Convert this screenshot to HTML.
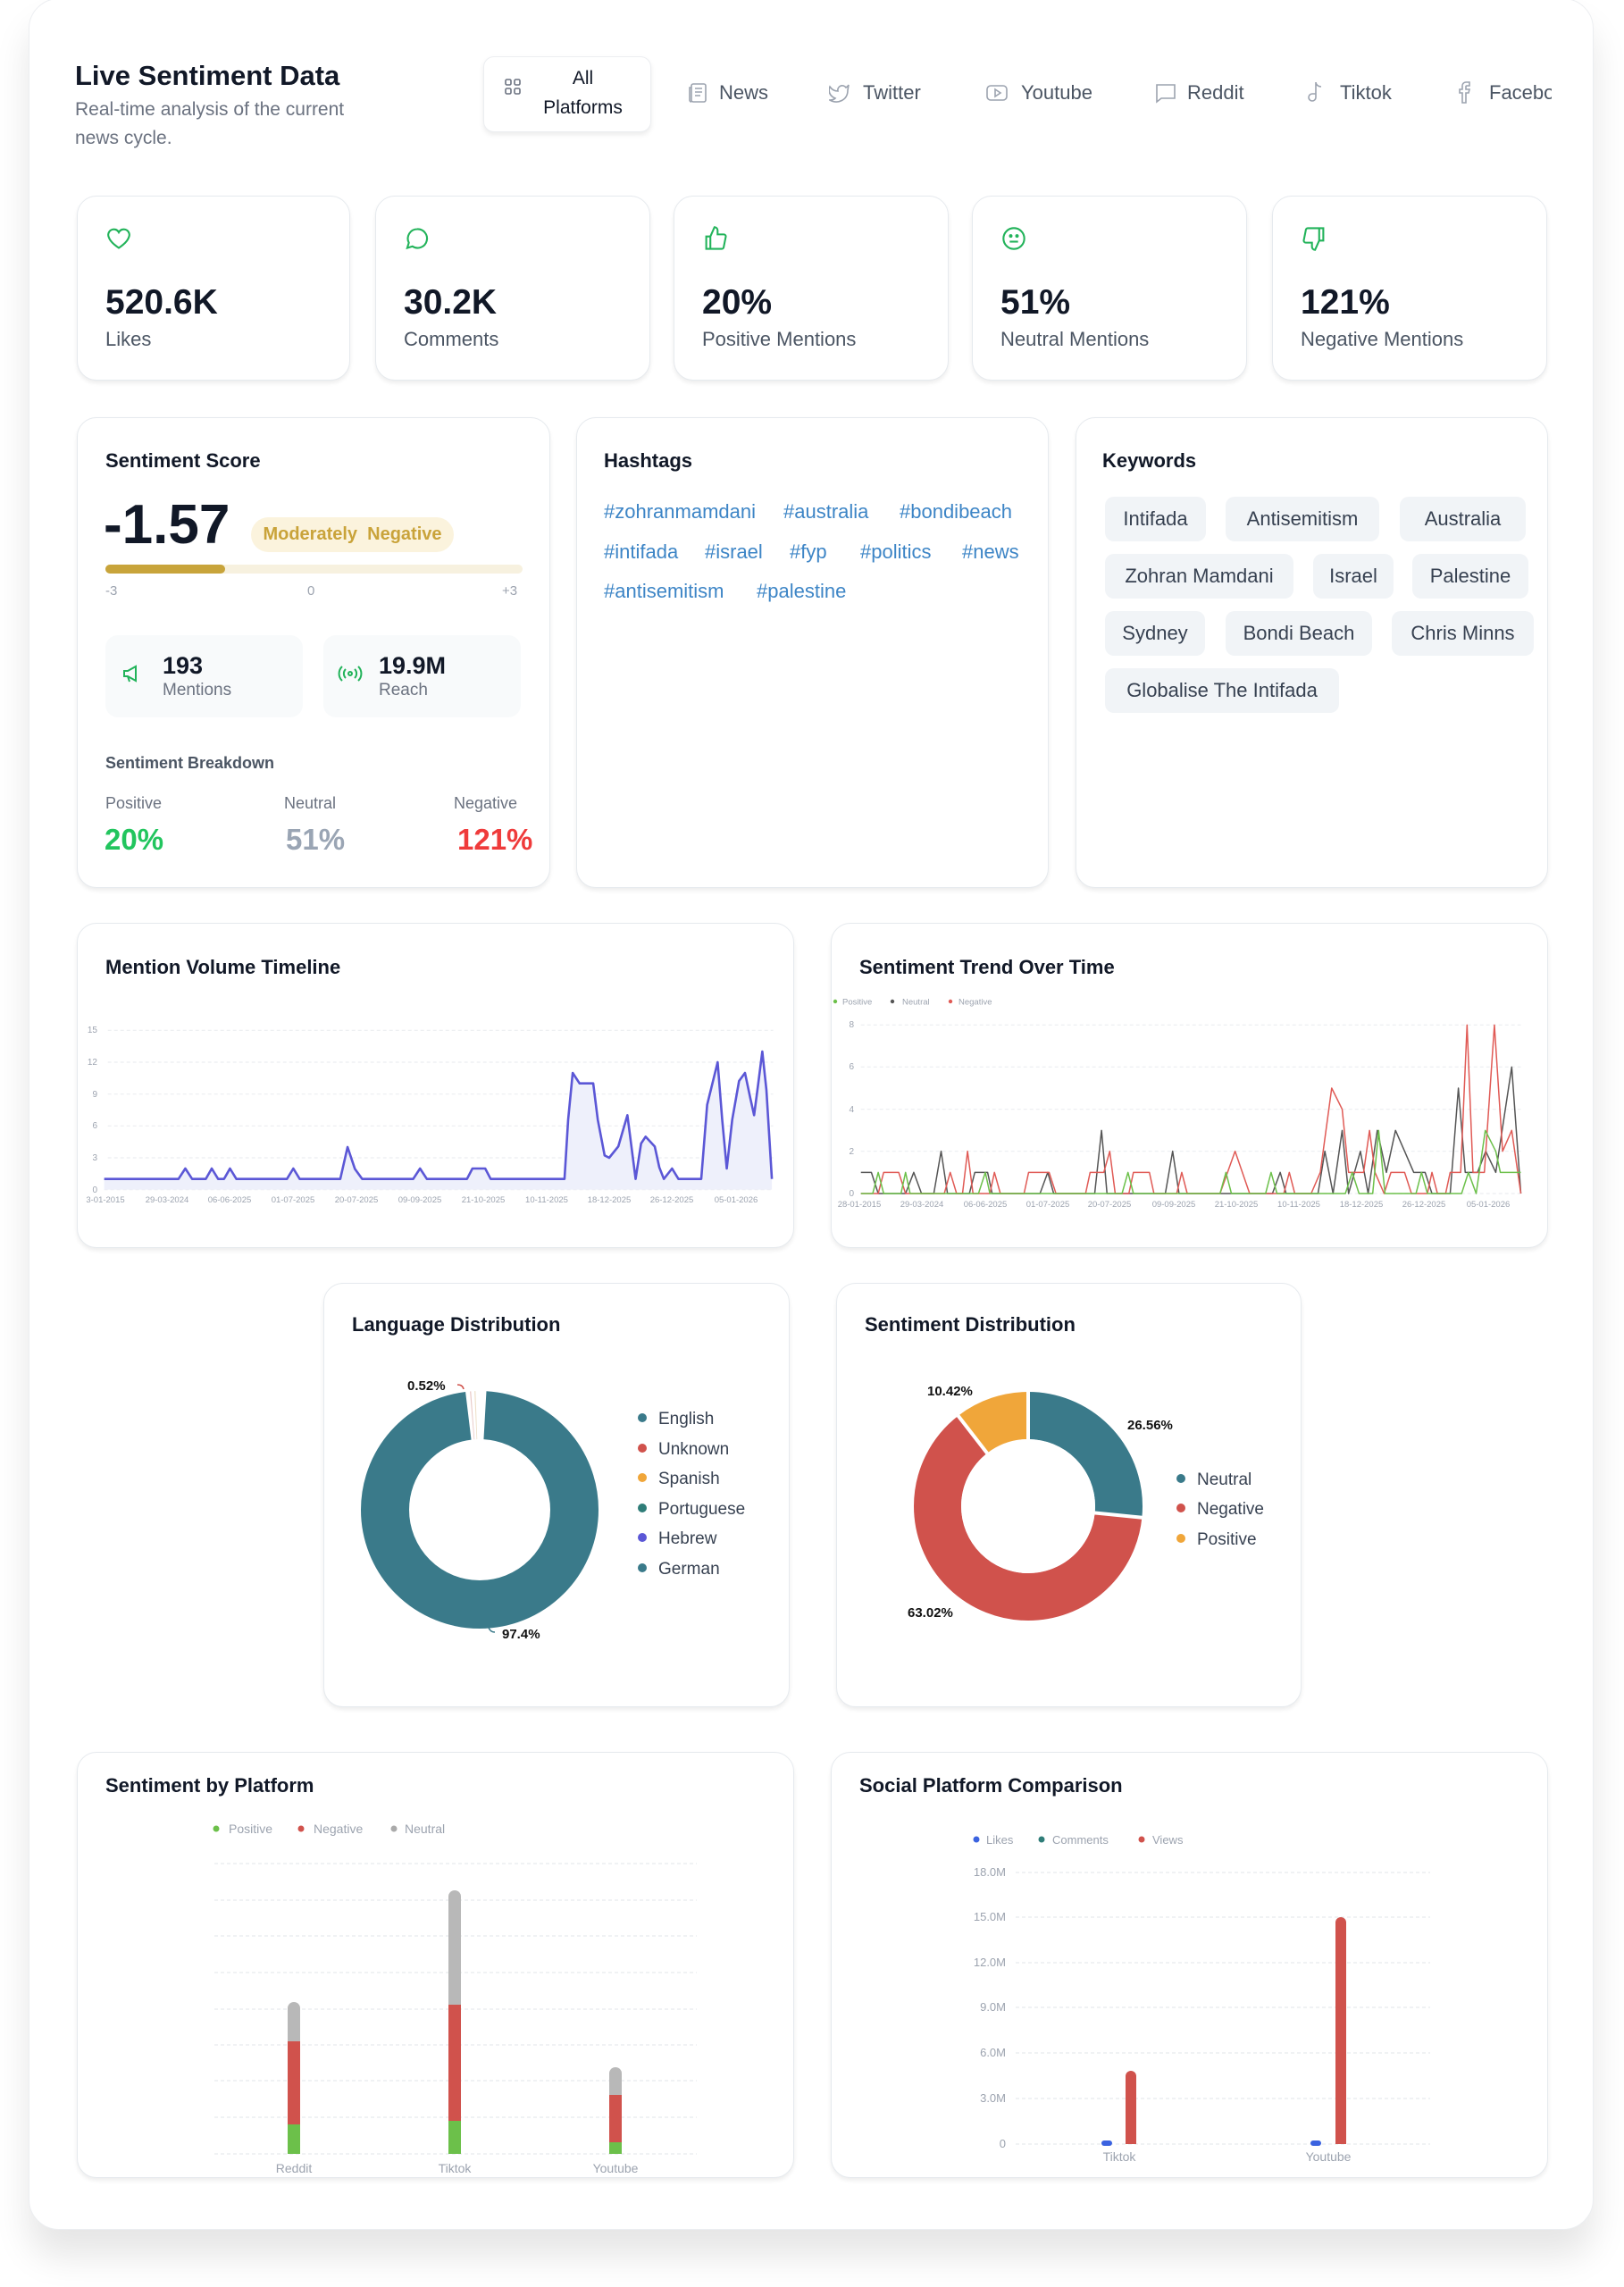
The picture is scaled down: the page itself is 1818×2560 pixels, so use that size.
<!DOCTYPE html>
<html><head><meta charset="utf-8">
<style>
*{margin:0;padding:0;box-sizing:border-box}
body{width:1818px;height:2560px;background:#fff;font-family:"Liberation Sans",sans-serif;color:#111827;position:relative;overflow:hidden}
.a{position:absolute}
.outer{left:32px;top:-2px;width:1752px;height:2498px;border:1.5px solid #eceef1;border-radius:34px;background:#fff;box-shadow:0 30px 40px rgba(0,0,0,0.10)}
.card{position:absolute;background:#fff;border:1.5px solid #e6eaee;border-radius:22px;box-shadow:0 3px 5px rgba(0,0,0,0.07)}
.t{position:absolute;white-space:nowrap;line-height:1}
.h{font-weight:bold;font-size:22px;color:#111827}
.val{font-weight:bold;font-size:39px;color:#111827}
.lbl{font-size:22px;color:#4b5563}
.tab{font-size:22px;color:#4b5563}
.tag{font-size:22px;color:#3d85c6}
.chip{position:absolute;height:50px;background:#f1f4f7;border-radius:10px;font-size:22px;color:#374151;display:flex;align-items:center;justify-content:center}
</style></head><body>
<div class="a outer"></div>

<!-- header -->
<div class="t" style="left:84px;top:69px;font-size:31px;font-weight:bold">Live Sentiment Data</div>
<div class="t" style="left:84px;top:112px;font-size:21px;color:#6b7280">Real-time analysis of the current</div>
<div class="t" style="left:84px;top:144px;font-size:21px;color:#6b7280">news cycle.</div>

<div class="a" style="left:541px;top:63px;width:188px;height:85px;border:1.5px solid #eceef1;border-radius:12px;box-shadow:0 3px 6px rgba(0,0,0,0.08);background:#fff"></div>
<svg class="a" style="left:565px;top:88px" width="18" height="18" viewBox="0 0 18 18" fill="none" stroke="#6b7280" stroke-width="1.6"><rect x="1" y="1" width="6" height="6" rx="1.5"/><rect x="11" y="1" width="6" height="6" rx="1.5"/><rect x="1" y="11" width="6" height="6" rx="1.5"/><rect x="11" y="11" width="6" height="6" rx="1.5"/></svg>
<div class="t" style="left:600px;top:77px;width:105px;text-align:center;font-size:21px">All</div>
<div class="t" style="left:600px;top:110px;width:105px;text-align:center;font-size:21px">Platforms</div>

<svg class="a" style="left:770px;top:92px" width="22" height="24" viewBox="0 0 22 24" fill="none" stroke="#9ca3af" stroke-width="1.6"><rect x="4" y="2" width="16" height="20" rx="2"/><path d="M4 6H2v14a2 2 0 002 2M8 7h8M8 11h8M8 15h6"/></svg>
<div class="t tab" style="left:805px;top:93px">News</div>
<svg class="a" style="left:928px;top:93px" width="24" height="22" viewBox="0 0 24 22" fill="none" stroke="#9ca3af" stroke-width="1.6"><path d="M22 2s-1 2-3 3a5 5 0 00-9 4C6 9 3 7 1 4c0 0-4 9 6 13-2 2-4 2-6 2 9 5 20 0 20-11z"/></svg>
<div class="t tab" style="left:966px;top:93px">Twitter</div>
<svg class="a" style="left:1104px;top:94px" width="24" height="20" viewBox="0 0 24 20" fill="none" stroke="#9ca3af" stroke-width="1.6"><rect x="1" y="2" width="22" height="16" rx="4"/><path d="M10 6v8l6-4z"/></svg>
<div class="t tab" style="left:1143px;top:93px">Youtube</div>
<svg class="a" style="left:1293px;top:92px" width="24" height="24" viewBox="0 0 24 24" fill="none" stroke="#9ca3af" stroke-width="1.6"><path d="M2 3h20v15H7l-5 4z"/></svg>
<div class="t tab" style="left:1329px;top:93px">Reddit</div>
<svg class="a" style="left:1463px;top:90px" width="20" height="26" viewBox="0 0 20 26" fill="none" stroke="#9ca3af" stroke-width="1.6"><path d="M10 2v17a4 4 0 11-4-4h4M10 2c0 3 3 5 6 5"/></svg>
<div class="t tab" style="left:1500px;top:93px">Tiktok</div>
<svg class="a" style="left:1632px;top:90px" width="16" height="26" viewBox="0 0 16 26" fill="none" stroke="#9ca3af" stroke-width="1.6"><path d="M11 2H9a4 4 0 00-4 4v4H2v4h3v11h4V14h3l1-4H9V7a1 1 0 011-1h3V2z"/></svg>
<div class="a" style="left:1667px;top:90px;width:70px;height:30px;overflow:hidden"><div class="t tab" style="left:0;top:3px">Facebook</div></div>

<!-- stat cards -->
<div class="card" style="left:86px;top:219px;width:306px;height:207px"></div>
<div class="card" style="left:420px;top:219px;width:308px;height:207px"></div>
<div class="card" style="left:754px;top:219px;width:308px;height:207px"></div>
<div class="card" style="left:1088px;top:219px;width:308px;height:207px"></div>
<div class="card" style="left:1424px;top:219px;width:308px;height:207px"></div>

<svg class="a" style="left:119px;top:253px" width="28" height="28" viewBox="0 0 24 24" fill="none" stroke="#22b35a" stroke-width="1.8"><path d="M12 21s-8-5-9.5-10A5 5 0 0112 6a5 5 0 019.5 5C20 16 12 21 12 21z"/></svg>
<svg class="a" style="left:453px;top:253px" width="28" height="28" viewBox="0 0 24 24" fill="none" stroke="#22b35a" stroke-width="1.8"><path d="M12 3a9 9 0 00-8 13l-1.5 5 5-1.5A9 9 0 1012 3z"/></svg>
<svg class="a" style="left:787px;top:252px" width="28" height="30" viewBox="0 0 24 26" fill="none" stroke="#22b35a" stroke-width="1.8"><path d="M7 11v12H3V11zM7 11l4-9a3 3 0 013 3v4h6a2 2 0 012 2l-2 10a2 2 0 01-2 2H7"/></svg>
<svg class="a" style="left:1121px;top:253px" width="28" height="28" viewBox="0 0 24 24" fill="none" stroke="#22b35a" stroke-width="1.8"><circle cx="12" cy="12" r="10"/><path d="M8 15h8"/><circle cx="9" cy="9.5" r=".8" fill="#22b35a"/><circle cx="15" cy="9.5" r=".8" fill="#22b35a"/></svg>
<svg class="a" style="left:1457px;top:252px" width="28" height="30" viewBox="0 0 24 26" fill="none" stroke="#22b35a" stroke-width="1.8"><path d="M17 15V3h4v12zM17 15l-4 9a3 3 0 01-3-3v-4H4a2 2 0 01-2-2l2-10a2 2 0 012-2h11"/></svg>

<div class="t val" style="left:118px;top:319px">520.6K</div><div class="t lbl" style="left:118px;top:369px">Likes</div>
<div class="t val" style="left:452px;top:319px">30.2K</div><div class="t lbl" style="left:452px;top:369px">Comments</div>
<div class="t val" style="left:786px;top:319px">20%</div><div class="t lbl" style="left:786px;top:369px">Positive Mentions</div>
<div class="t val" style="left:1120px;top:319px">51%</div><div class="t lbl" style="left:1120px;top:369px">Neutral Mentions</div>
<div class="t val" style="left:1456px;top:319px">121%</div><div class="t lbl" style="left:1456px;top:369px">Negative Mentions</div>

<!-- row 2 -->
<div class="card" style="left:86px;top:467px;width:530px;height:527px"></div>
<div class="card" style="left:645px;top:467px;width:529px;height:527px"></div>
<div class="card" style="left:1204px;top:467px;width:529px;height:527px"></div>

<div class="t h" style="left:118px;top:505px">Sentiment Score</div>
<div class="t" style="left:116px;top:557px;font-size:62px;font-weight:bold">-1.57</div>
<div class="a" style="left:281px;top:579px;width:227px;height:39px;border-radius:20px;background:#fbf3dd"></div>
<div class="t" style="left:281px;top:588px;width:227px;text-align:center;font-size:20px;font-weight:bold;color:#c9a33a">Moderately&nbsp; Negative</div>
<div class="a" style="left:118px;top:632px;width:467px;height:10px;border-radius:5px;background:#f7f1df"></div>
<div class="a" style="left:118px;top:632px;width:134px;height:10px;border-radius:5px;background:#c8a43b"></div>
<div class="t" style="left:118px;top:654px;font-size:15px;color:#9ca3af">-3</div>
<div class="t" style="left:344px;top:654px;font-size:15px;color:#9ca3af">0</div>
<div class="t" style="left:562px;top:654px;font-size:15px;color:#9ca3af">+3</div>

<div class="a" style="left:118px;top:711px;width:221px;height:92px;border-radius:14px;background:#f8fafb"></div>
<div class="a" style="left:362px;top:711px;width:221px;height:92px;border-radius:14px;background:#f8fafb"></div>
<svg class="a" style="left:136px;top:742px" width="24" height="24" viewBox="0 0 24 24" fill="none" stroke="#22b35a" stroke-width="2"><path d="M3 9v6h4l9 5V4L7 9zM7 15l2 6"/></svg>
<svg class="a" style="left:378px;top:742px" width="28" height="24" viewBox="0 0 28 24" fill="none" stroke="#22b35a" stroke-width="2"><circle cx="14" cy="12" r="2"/><path d="M9 7a7 7 0 000 10M19 7a7 7 0 010 10M5 4a11 11 0 000 16M23 4a11 11 0 010 16"/></svg>
<div class="t" style="left:182px;top:732px;font-size:27px;font-weight:bold">193</div>
<div class="t" style="left:182px;top:763px;font-size:19px;color:#6b7280">Mentions</div>
<div class="t" style="left:424px;top:732px;font-size:27px;font-weight:bold">19.9M</div>
<div class="t" style="left:424px;top:763px;font-size:19px;color:#6b7280">Reach</div>

<div class="t" style="left:118px;top:845px;font-size:18px;font-weight:bold;color:#4b5563">Sentiment Breakdown</div>
<div class="t" style="left:118px;top:890px;font-size:18px;color:#6b7280">Positive</div>
<div class="t" style="left:318px;top:890px;font-size:18px;color:#6b7280">Neutral</div>
<div class="t" style="left:508px;top:890px;font-size:18px;color:#6b7280">Negative</div>
<div class="t" style="left:117px;top:923px;font-size:33px;font-weight:bold;color:#22c55e">20%</div>
<div class="t" style="left:320px;top:923px;font-size:33px;font-weight:bold;color:#9aa5b4">51%</div>
<div class="t" style="left:512px;top:923px;font-size:33px;font-weight:bold;color:#ef3b3b">121%</div>

<div class="t h" style="left:676px;top:505px">Hashtags</div>
<div class="t tag" style="left:676px;top:562px">#zohranmamdani</div>
<div class="t tag" style="left:877px;top:562px">#australia</div>
<div class="t tag" style="left:1007px;top:562px">#bondibeach</div>
<div class="t tag" style="left:676px;top:607px">#intifada</div>
<div class="t tag" style="left:789px;top:607px">#israel</div>
<div class="t tag" style="left:884px;top:607px">#fyp</div>
<div class="t tag" style="left:963px;top:607px">#politics</div>
<div class="t tag" style="left:1077px;top:607px">#news</div>
<div class="t tag" style="left:676px;top:651px">#antisemitism</div>
<div class="t tag" style="left:847px;top:651px">#palestine</div>

<div class="t h" style="left:1234px;top:505px">Keywords</div>
<div class="chip" style="left:1237px;top:556px;width:113px">Intifada</div>
<div class="chip" style="left:1372px;top:556px;width:172px">Antisemitism</div>
<div class="chip" style="left:1567px;top:556px;width:141px">Australia</div>
<div class="chip" style="left:1237px;top:620px;width:211px">Zohran Mamdani</div>
<div class="chip" style="left:1470px;top:620px;width:90px">Israel</div>
<div class="chip" style="left:1581px;top:620px;width:130px">Palestine</div>
<div class="chip" style="left:1237px;top:684px;width:112px">Sydney</div>
<div class="chip" style="left:1372px;top:684px;width:164px">Bondi Beach</div>
<div class="chip" style="left:1558px;top:684px;width:159px">Chris Minns</div>
<div class="chip" style="left:1237px;top:748px;width:262px">Globalise The Intifada</div>

<!-- row 3 -->
<div class="card" style="left:86px;top:1033px;width:803px;height:364px"></div>
<div class="card" style="left:930px;top:1033px;width:803px;height:364px"></div>
<div class="t h" style="left:118px;top:1072px">Mention Volume Timeline</div>
<div class="t h" style="left:962px;top:1072px">Sentiment Trend Over Time</div>

<svg class="a" style="left:85px;top:1120px" width="800" height="240" viewBox="0 0 1568 720" preserveAspectRatio="none">
<g stroke="#eceef1" stroke-width="1.2" stroke-dasharray="4 3">
<line x1="70" y1="100" x2="1530" y2="100" vector-effect="non-scaling-stroke"/><line x1="70" y1="207" x2="1530" y2="207" vector-effect="non-scaling-stroke"/><line x1="70" y1="314" x2="1530" y2="314" vector-effect="non-scaling-stroke"/><line x1="70" y1="421" x2="1530" y2="421" vector-effect="non-scaling-stroke"/><line x1="70" y1="528" x2="1530" y2="528" vector-effect="non-scaling-stroke"/><line x1="62" y1="635" x2="1530" y2="635" vector-effect="non-scaling-stroke"/></g>
<polygon fill="#eef0fb" points="62,635 62,599 225,599 240,564 255,599 285,599 298,564 312,599 325,599 338,564 352,599 463,599 477,564 491,599 580,599 596,492 612,565 628,599 740,599 755,564 770,599 858,599 870,564 898,564 910,599 1072,599 1080,400 1090,243 1105,278 1135,278 1145,400 1160,520 1170,528 1190,490 1210,385 1218,480 1228,599 1240,480 1250,457 1270,490 1280,560 1290,599 1308,564 1322,599 1372,599 1385,350 1408,207 1418,400 1428,564 1440,400 1455,270 1468,243 1480,330 1488,385 1497,280 1506,171 1515,300 1527,599 1527,635"/>
<polyline fill="none" stroke="#5b57d6" stroke-width="2.6" vector-effect="non-scaling-stroke" stroke-linejoin="round" points="62,599 225,599 240,564 255,599 285,599 298,564 312,599 325,599 338,564 352,599 463,599 477,564 491,599 580,599 596,492 612,565 628,599 740,599 755,564 770,599 858,599 870,564 898,564 910,599 1072,599 1080,400 1090,243 1105,278 1135,278 1145,400 1160,520 1170,528 1190,490 1210,385 1218,480 1228,599 1240,480 1250,457 1270,490 1280,560 1290,599 1308,564 1322,599 1372,599 1385,350 1408,207 1418,400 1428,564 1440,400 1455,270 1468,243 1480,330 1488,385 1497,280 1506,171 1515,300 1527,599"/>
</svg>
<svg class="a" style="left:0;top:1100px" width="900" height="260">
<g font-size="10" fill="#9ca3af" font-family="Liberation Sans,sans-serif" text-anchor="end">
<text x="109" y="56">15</text><text x="109" y="92">12</text><text x="109" y="128">9</text><text x="109" y="163">6</text><text x="109" y="199">3</text><text x="109" y="235">0</text></g>
<g font-size="9.5" fill="#9ca3af" font-family="Liberation Sans,sans-serif" text-anchor="middle">
<text x="118" y="246">3-01-2015</text><text x="187" y="246">29-03-2024</text><text x="257" y="246">06-06-2025</text><text x="328" y="246">01-07-2025</text><text x="399" y="246">20-07-2025</text><text x="470" y="246">09-09-2025</text><text x="541" y="246">21-10-2025</text><text x="612" y="246">10-11-2025</text><text x="682" y="246">18-12-2025</text><text x="752" y="246">26-12-2025</text><text x="824" y="246">05-01-2026</text></g>
</svg>

<svg class="a" style="left:927px;top:1100px" width="800" height="260" viewBox="0 0 1568 780" preserveAspectRatio="none">
<g stroke="#eceef1" stroke-width="1.2" stroke-dasharray="4 3">
<line x1="72" y1="142" x2="1520" y2="142" vector-effect="non-scaling-stroke"/><line x1="72" y1="283" x2="1520" y2="283" vector-effect="non-scaling-stroke"/><line x1="72" y1="425" x2="1520" y2="425" vector-effect="non-scaling-stroke"/><line x1="72" y1="566" x2="1520" y2="566" vector-effect="non-scaling-stroke"/><line x1="72" y1="708" x2="1520" y2="708" vector-effect="non-scaling-stroke"/></g>
<polyline fill="none" stroke="#555" stroke-width="1.5" vector-effect="non-scaling-stroke" stroke-linejoin="round" points="72,637 95,637 110,708 170,708 188,637 205,708 232,708 248,566 262,708 310,708 322,637 350,637 360,708 465,708 482,637 495,708 585,708 600,496 612,708 740,708 756,566 770,708 975,708 992,637 1005,708 1075,708 1090,566 1108,708 1128,496 1142,708 1155,637 1168,566 1185,708 1205,496 1225,637 1245,496 1265,566 1285,637 1310,637 1325,708 1365,708 1383,354 1398,637 1425,637 1443,566 1465,637 1500,283 1520,708"/>
<polyline fill="none" stroke="#e05a55" stroke-width="1.5" vector-effect="non-scaling-stroke" stroke-linejoin="round" points="72,708 110,708 122,637 155,637 170,708 255,708 268,637 282,708 295,708 306,566 318,708 355,708 365,637 378,708 430,708 440,637 485,637 500,708 565,708 575,637 605,637 618,566 630,708 660,708 670,637 705,637 715,708 765,708 776,637 788,708 860,708 893,566 925,708 1000,708 1012,637 1024,708 1060,708 1080,637 1105,354 1128,425 1142,637 1175,637 1188,496 1200,637 1220,708 1235,637 1265,637 1280,708 1315,708 1325,637 1337,708 1355,708 1365,637 1388,637 1402,142 1415,637 1440,637 1462,142 1480,566 1500,496 1520,708"/>
<polyline fill="none" stroke="#6cc04a" stroke-width="1.5" vector-effect="non-scaling-stroke" stroke-linejoin="round" points="72,708 98,708 110,637 122,708 160,708 170,637 180,708 330,708 345,637 355,708 645,708 658,637 670,708 860,708 873,637 885,708 960,708 972,637 985,708 1135,708 1150,637 1165,708 1195,708 1208,496 1222,708 1290,708 1302,637 1315,708 1390,708 1405,637 1422,708 1442,496 1465,566 1475,637 1520,637"/>
</svg>
<svg class="a" style="left:900px;top:1100px" width="900" height="260">
<g font-size="9.5" fill="#9ca3af" font-family="Liberation Sans,sans-serif">
<circle cx="35" cy="21" r="2.2" fill="#6cc04a"/><text x="43" y="24.5">Positive</text>
<circle cx="99" cy="21" r="2.2" fill="#555"/><text x="110" y="24.5">Neutral</text>
<circle cx="164" cy="21" r="2.2" fill="#e05a55"/><text x="173" y="24.5">Negative</text></g>
<g font-size="10" fill="#9ca3af" font-family="Liberation Sans,sans-serif" text-anchor="end">
<text x="56" y="50">8</text><text x="56" y="97">6</text><text x="56" y="145">4</text><text x="56" y="192">2</text><text x="56" y="239">0</text></g>
<g font-size="9.5" fill="#9ca3af" font-family="Liberation Sans,sans-serif" text-anchor="middle">
<text x="62" y="251">28-01-2015</text><text x="132" y="251">29-03-2024</text><text x="203" y="251">06-06-2025</text><text x="273" y="251">01-07-2025</text><text x="342" y="251">20-07-2025</text><text x="414" y="251">09-09-2025</text><text x="484" y="251">21-10-2025</text><text x="554" y="251">10-11-2025</text><text x="624" y="251">18-12-2025</text><text x="694" y="251">26-12-2025</text><text x="766" y="251">05-01-2026</text></g>
</svg>

<!-- row 4 -->
<div class="card" style="left:362px;top:1436px;width:522px;height:475px"></div>
<div class="card" style="left:936px;top:1436px;width:521px;height:475px"></div>
<div class="t h" style="left:394px;top:1472px">Language Distribution</div>
<div class="t h" style="left:968px;top:1472px">Sentiment Distribution</div>

<svg class="a" style="left:362px;top:1436px" width="522" height="475">
<g transform="translate(175,254) rotate(-90)">
<circle r="106" fill="none" stroke="#3a7a8a" stroke-width="54" stroke-dasharray="647 666" stroke-dashoffset="-6"/>
<circle r="106" fill="none" stroke="#e8c9c6" stroke-width="54" stroke-dasharray="1 666" stroke-dashoffset="-657"/>
<circle r="106" fill="none" stroke="#eee0c8" stroke-width="54" stroke-dasharray="1 666" stroke-dashoffset="-661"/>
</g>
<text x="94" y="120" font-size="15" font-weight="bold" fill="#111" font-family="Liberation Sans,sans-serif">0.52%</text>
<path d="M150 114 q6 0 7 5" fill="none" stroke="#d0524c" stroke-width="1.5"/>
<path d="M185 386 q2 5 7 5" fill="none" stroke="#3a7a8a" stroke-width="1.5"/>
<text x="200" y="398" font-size="15" font-weight="bold" fill="#111" font-family="Liberation Sans,sans-serif">97.4%</text>
<g font-size="19" fill="#374151" font-family="Liberation Sans,sans-serif">
<circle cx="357" cy="151" r="5" fill="#3a7a8a"/><text x="375" y="158">English</text>
<circle cx="357" cy="185" r="5" fill="#d0524c"/><text x="375" y="192">Unknown</text>
<circle cx="357" cy="218" r="5" fill="#f0a63a"/><text x="375" y="225">Spanish</text>
<circle cx="357" cy="252" r="5" fill="#2f7d78"/><text x="375" y="259">Portuguese</text>
<circle cx="357" cy="285" r="5" fill="#5b57d6"/><text x="375" y="292">Hebrew</text>
<circle cx="357" cy="319" r="5" fill="#3a7a8a"/><text x="375" y="326">German</text></g>
</svg>

<svg class="a" style="left:936px;top:1436px" width="521" height="475">
<g transform="translate(215,250) rotate(-90)">
<circle r="101.5" fill="none" stroke="#3a7a8a" stroke-width="53" stroke-dasharray="169.4 638" stroke-dashoffset="0"/>
<circle r="101.5" fill="none" stroke="#d0524c" stroke-width="53" stroke-dasharray="402 638" stroke-dashoffset="-169.4"/>
<circle r="101.5" fill="none" stroke="#f0a63a" stroke-width="53" stroke-dasharray="66.5 638" stroke-dashoffset="-571.2"/>
</g>
<g stroke="#fff" stroke-width="4">
<line x1="215" y1="250" x2="215" y2="118"/>
<line x1="215" y1="250" x2="345" y2="263"/>
<line x1="215" y1="250" x2="136" y2="148"/></g>
<circle cx="215" cy="250" r="75" fill="#fff"/>
<text x="102" y="126" font-size="15" font-weight="bold" fill="#111" font-family="Liberation Sans,sans-serif">10.42%</text>
<text x="326" y="164" font-size="15" font-weight="bold" fill="#111" font-family="Liberation Sans,sans-serif">26.56%</text>
<text x="80" y="374" font-size="15" font-weight="bold" fill="#111" font-family="Liberation Sans,sans-serif">63.02%</text>
<g font-size="19" fill="#374151" font-family="Liberation Sans,sans-serif">
<circle cx="386" cy="219" r="5" fill="#3a7a8a"/><text x="404" y="226">Neutral</text>
<circle cx="386" cy="252" r="5" fill="#d0524c"/><text x="404" y="259">Negative</text>
<circle cx="386" cy="286" r="5" fill="#f0a63a"/><text x="404" y="293">Positive</text></g>
</svg>

<!-- row 5 -->
<div class="card" style="left:86px;top:1961px;width:803px;height:477px"></div>
<div class="card" style="left:930px;top:1961px;width:803px;height:477px"></div>
<div class="t h" style="left:118px;top:1988px">Sentiment by Platform</div>
<div class="t h" style="left:962px;top:1988px">Social Platform Comparison</div>

<svg class="a" style="left:0;top:1900px" width="1818" height="600">
<g font-size="14" fill="#9ca3af" font-family="Liberation Sans,sans-serif">
<circle cx="242" cy="147" r="3.5" fill="#6cc04a"/><text x="256" y="152">Positive</text>
<circle cx="337" cy="147" r="3.5" fill="#d0524c"/><text x="351" y="152">Negative</text>
<circle cx="441" cy="147" r="3.5" fill="#aaa"/><text x="453" y="152">Neutral</text></g>
<g stroke="#eceef1" stroke-width="1.5" stroke-dasharray="4 3">
<line x1="240" y1="186" x2="780" y2="186"/><line x1="240" y1="227" x2="780" y2="227"/><line x1="240" y1="267" x2="780" y2="267"/><line x1="240" y1="308" x2="780" y2="308"/><line x1="240" y1="349" x2="780" y2="349"/><line x1="240" y1="389" x2="780" y2="389"/><line x1="240" y1="429" x2="780" y2="429"/><line x1="240" y1="470" x2="780" y2="470"/><line x1="240" y1="511" x2="780" y2="511"/></g>
<rect x="322" y="341" width="14" height="60" rx="7" fill="#b8b8b8"/><rect x="322" y="385" width="14" height="94" fill="#d0524c"/><rect x="322" y="478" width="14" height="33" fill="#6cc04a"/>
<rect x="502" y="216" width="14" height="140" rx="7" fill="#b8b8b8"/><rect x="502" y="344" width="14" height="131" fill="#d0524c"/><rect x="502" y="474" width="14" height="37" fill="#6cc04a"/>
<rect x="682" y="414" width="14" height="40" rx="7" fill="#b8b8b8"/><rect x="682" y="445" width="14" height="54" fill="#d0524c"/><rect x="682" y="498" width="14" height="13" fill="#6cc04a"/>
<g font-size="14" fill="#9ca3af" font-family="Liberation Sans,sans-serif" text-anchor="middle">
<text x="329" y="532">Reddit</text><text x="509" y="532">Tiktok</text><text x="689" y="532">Youtube</text></g>

<g font-size="13" fill="#9ca3af" font-family="Liberation Sans,sans-serif">
<circle cx="1093" cy="159" r="3.5" fill="#3b63e0"/><text x="1104" y="164">Likes</text>
<circle cx="1166" cy="159" r="3.5" fill="#2f7d78"/><text x="1178" y="164">Comments</text>
<circle cx="1278" cy="159" r="3.5" fill="#d0524c"/><text x="1290" y="164">Views</text></g>
<g stroke="#eceef1" stroke-width="1.5" stroke-dasharray="4 3">
<line x1="1137" y1="196" x2="1601" y2="196"/><line x1="1137" y1="246" x2="1601" y2="246"/><line x1="1137" y1="297" x2="1601" y2="297"/><line x1="1137" y1="347" x2="1601" y2="347"/><line x1="1137" y1="398" x2="1601" y2="398"/><line x1="1137" y1="449" x2="1601" y2="449"/><line x1="1137" y1="500" x2="1601" y2="500"/></g>
<g font-size="13" fill="#9ca3af" font-family="Liberation Sans,sans-serif" text-anchor="end">
<text x="1126" y="200">18.0M</text><text x="1126" y="250">15.0M</text><text x="1126" y="301">12.0M</text><text x="1126" y="351">9.0M</text><text x="1126" y="402">6.0M</text><text x="1126" y="453">3.0M</text><text x="1126" y="504">0</text></g>
<rect x="1260" y="418" width="12" height="82" rx="6" fill="#d0524c"/><rect x="1260" y="490" width="12" height="10" fill="#d0524c"/>
<rect x="1495" y="246" width="12" height="254" rx="6" fill="#d0524c"/><rect x="1495" y="490" width="12" height="10" fill="#d0524c"/>
<rect x="1233" y="496" width="12" height="6" rx="3" fill="#3b63e0"/>
<rect x="1467" y="496" width="12" height="6" rx="3" fill="#3b63e0"/>
<g font-size="14" fill="#9ca3af" font-family="Liberation Sans,sans-serif" text-anchor="middle">
<text x="1253" y="519">Tiktok</text><text x="1487" y="519">Youtube</text></g>
</svg>
</body></html>
